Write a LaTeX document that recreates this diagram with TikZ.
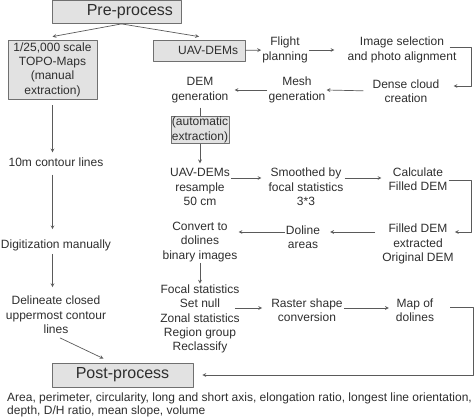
\documentclass[tikz,border=0pt]{standalone}
\usepackage{fontspec}
\setmainfont{Liberation Sans}
\definecolor{linegray}{HTML}{5A5A5A}
\definecolor{boxfill}{HTML}{E2E2E2}
\definecolor{boxline}{HTML}{707070}
\definecolor{textgray}{HTML}{2E2E2E}
\tikzset{
  lbl/.style={align=center, inner sep=1pt, text=textgray},
  box/.style={lbl, draw=boxline, fill=boxfill, line width=0.8pt},
  bigbox/.style={box, font=\fontsize{16}{18}\selectfont},
  arr/.style={->, draw=linegray, line width=0.7pt},
  link/.style={draw=linegray, line width=0.7pt},
}
\begin{document}
\begin{tikzpicture}[x=1pt, y=-1pt, font=\fontsize{12}{14.3}\selectfont, line join=round, >=stealth]
\useasboundingbox (0,0) rectangle (474,418);
% boxes and labels
\node[bigbox, text width=127pt, align=left, minimum height=23pt] (pre) at (116.5,12) {\hfill Pre-process\hspace*{7pt}};
\node[box, minimum width=89pt, minimum height=59pt] (topo) at (52.5,69.5) {1/25,000 scale\\TOPO-Maps\\(manual\\extraction)};
\node[box, text width=90pt, align=left, minimum height=21pt] (uav) at (199,50.5) {\hfill UAV-DEMs\hspace*{6pt}};
\node[lbl] (flight) at (285,50) {Flight\\planning};
\node[lbl] (img) at (402,50) {Image selection\\and photo alignment};
\node[lbl] (dense) at (406,91) {Dense cloud\\creation};
\node[lbl] (mesh) at (297,90) {Mesh\\generation};
\node[lbl] (demgen) at (200,90) {DEM\\generation};
\node[box, line width=0.6pt] (auto) at (200,130) {(automatic\\extraction)};
\node[lbl] (resample) at (200,187) {UAV-DEMs\\resample\\50 cm};
\node[lbl] (smooth) at (306,187) {Smoothed by\\focal statistics\\3*3};
\node[lbl] (calc) at (418,179) {Calculate\\Filled DEM};
\node[lbl] (filled) at (418,244) {Filled DEM\\extracted\\Original DEM};
\node[lbl] (doline) at (303,237) {Doline\\areas};
\node[lbl] (convert) at (200,242) {Convert to\\dolines\\binary images};
\node[lbl] (focal) at (200,319) {Focal statistics\\Set null\\Zonal statistics\\Region group\\Reclassify};
\node[lbl] (raster) at (307,310) {Raster shape\\conversion};
\node[lbl] (map) at (415,310) {Map of\\dolines};
\node[lbl] (contour) at (56,162) {10m contour lines};
\node[lbl] (digit) at (56,245) {Digitization manually};
\node[lbl] (delin) at (56,315) {Delineate closed\\uppermost contour\\lines};
\node[bigbox, minimum width=141pt, minimum height=24pt] (post) at (122.5,375) {Post-process};
\node[lbl, anchor=north west, align=left, inner sep=0pt, font=\fontsize{12}{13.5}\selectfont] (attr) at (7,392.5)
  {Area, perimeter, circularity, long and short axis, elongation ratio, longest line orientation,\\depth, D/H ratio, mean slope, volume};
% left branch
\draw[arr] ([xshift=5pt]pre.south) -- ([yshift=3pt]topo.north);
\draw[arr] ([xshift=5pt]pre.south) -- ([yshift=3pt]uav.north);
\draw[arr, shorten <=6pt, shorten >=4pt] (topo.south) -- (topo.south |- contour.north);
\draw[arr, shorten <=7pt, shorten >=9pt] (topo.south |- contour.south) -- (topo.south |- digit.north);
\draw[arr, shorten <=2pt, shorten >=8pt] (topo.south |- digit.south) -- (topo.south |- delin.north);
\draw[arr] ([xshift=4pt,yshift=-3pt]delin.south) -- ([xshift=-19pt,yshift=4pt]post.north);
% UAV branch
\draw[arr] (uav) -- (flight);
\draw[arr, shorten >=12pt] (flight) -- (img);
\draw[arr, shorten >=13pt] ([xshift=-8pt,yshift=3pt]img.east) -- ++(22,0) |- ([yshift=5pt]dense.east);
\draw[arr, shorten <=8pt] (dense.west) -- (mesh.east);
\draw[arr, shorten >=5pt] (mesh.west) -- (demgen.east);
\draw[link, shorten <=4pt] (demgen) -- (auto);
\draw[arr, shorten >=4pt] (auto) -- (resample);
\draw[arr, shorten >=6pt] ([yshift=9pt]resample.east) -- ([yshift=9pt]smooth.west);
\draw[arr, shorten >=6pt] ([yshift=9pt]smooth.east) -- ([yshift=9pt]smooth.east -| calc.west);
\draw[arr] ([yshift=-1pt]calc.east) -- ++(23,0) |- ([yshift=12pt]filled.east);
\draw[arr, shorten <=6pt, shorten >=9pt] ([yshift=12pt]filled.west) -- ([yshift=12pt]filled.west -| doline.east);
\draw[arr] ([yshift=5pt]doline.west) -- ([yshift=5pt]doline.west -| convert.east);
\draw[arr] (convert) -- (focal);
\draw[arr, shorten <=-6pt, shorten >=8pt] ([yshift=11pt]focal.east) -- ([yshift=11pt]focal.east -| raster.west);
\draw[arr, shorten >=6pt] ([yshift=2pt]raster.east) -- ([yshift=2pt]raster.east -| map.west);
\draw[arr, shorten >=9pt] ([xshift=15pt,yshift=3pt]map.east) -- ++(23,0) |- (post.east);
\end{tikzpicture}
\end{document}
